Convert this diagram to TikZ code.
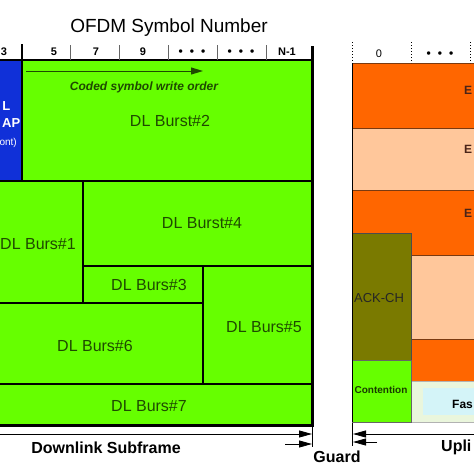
\documentclass[tikz,border=0pt]{standalone}
\usepackage{fontspec}
\setmainfont{Liberation Sans}
\usetikzlibrary{arrows.meta}
\definecolor{dlgreen}{HTML}{66FF00}
\definecolor{mapblue}{HTML}{1030D8}
\definecolor{ulorange}{HTML}{FF6600}
\definecolor{ulpeach}{HTML}{FFC79B}
\definecolor{ackolive}{HTML}{7A7A00}
\definecolor{palegreen}{HTML}{EAF6DC}
\definecolor{palecyan}{HTML}{D4F4F8}
\definecolor{txtgreen}{HTML}{1E4A00}
\definecolor{bandline}{HTML}{7A3A10}
\definecolor{edgetxt}{HTML}{4A2418}
\begin{document}
\begin{tikzpicture}[x=1pt,y=-1pt,
  burst/.style={draw=black,line width=1.5pt,fill=dlgreen},
  burstlbl/.style={font=\fontsize{16}{18}\selectfont,text=txtgreen,inner sep=0pt},
  axislbl/.style={font=\bfseries\fontsize{11}{12}\selectfont,inner sep=0pt,anchor=base},
  dotlbl/.style={font=\bfseries\fontsize{12}{12}\selectfont,inner sep=0pt,anchor=base},
  maplbl/.style={text=white,inner sep=0pt,anchor=base east},
  band/.style={draw=bandline,line width=0.5pt},
  bigtip/.style={-{Triangle[length=13pt,width=7pt]},line width=0.8pt},
  sublbl/.style={font=\bfseries\fontsize{16}{18}\selectfont,inner sep=0pt,anchor=base},
  edgelbl/.style={font=\bfseries\fontsize{12}{12}\selectfont,text=edgetxt,inner sep=0pt,anchor=west}
]
\useasboundingbox (0,0) rectangle (474,474);
\fill[white] (0,0) rectangle (474,474);

% title
\node[font=\fontsize{19}{21}\selectfont,inner sep=0pt,anchor=base] (title) at (169,32) {OFDM Symbol Number};

% ---------- Downlink ----------
\filldraw[burst] (-5,60) rectangle (312,181);
\filldraw[fill=mapblue,draw=black,line width=1.5pt] (-5,60) rectangle (22,181);
\filldraw[burst] (-5,181) rectangle (83,303);
\filldraw[burst] (83,181) rectangle (312,266);
\filldraw[burst] (83,266) rectangle (203,303);
\filldraw[burst] (203,266) rectangle (312,384);
\filldraw[burst] (-5,303) rectangle (203,384);
\filldraw[burst] (-5,384) rectangle (312,425);
\draw[line width=1.5pt] (-5,60) -- (312,60);
\draw[line width=3pt] (312,46) -- (312,425);
\draw[line width=3pt] (-5,425) -- (313.5,425);

% top axis DL
\draw[line width=1.2pt] (22,44) -- (22,60);
\foreach \xx in {70,119,168,217,266} \draw[gray!80!black,line width=0.8pt] (\xx,45) -- (\xx,60);
\node[axislbl] (a3) at (4,55) {3};
\node[axislbl] (a5) at (54,55) {5};
\node[axislbl] (a7) at (96,55) {7};
\node[axislbl] (a9) at (143,55) {9};
\node[dotlbl] (ad1) at (192,55) {•\hspace{7pt}•\hspace{7pt}•};
\node[dotlbl] (ad2) at (241,55) {•\hspace{7pt}•\hspace{7pt}•};
\node[axislbl] (an) at (287,55) {N-1};

% DL-MAP text (as printed, cropped)
\node[maplbl,font=\bfseries\fontsize{13}{16}\selectfont] (map1) at (10.5,110) {L};
\node[maplbl,font=\bfseries\fontsize{13}{16}\selectfont] (map2) at (20.5,127) {AP};
\node[maplbl,font=\fontsize{10}{12}\selectfont] (map3) at (17,145) {ont)};

% write order arrow
\coordinate (wo1) at (26,71);
\coordinate (wo2) at (203,71);
\draw[txtgreen,line width=1pt,-{Triangle[length=12pt,width=7pt]}] (wo1) -- (wo2);
\node[font=\bfseries\itshape\fontsize{12}{14}\selectfont,text=txtgreen,inner sep=0pt,anchor=base] (wo) at (144,90) {Coded symbol write order};

% burst labels
\node[burstlbl] (b2) at (170,121) {DL Burst\#2};
\node[burstlbl] (b4) at (202,223) {DL Burst\#4};
\node[burstlbl] (b1) at (38,244) {DL Burs\#1};
\node[burstlbl] (b3) at (149,285) {DL Burs\#3};
\node[burstlbl] (b5) at (264,327) {DL Burs\#5};
\node[burstlbl] (b6) at (95,346) {DL Burs\#6};
\node[burstlbl] (b7) at (149,406) {DL Burs\#7};

% DL bottom arrows
\coordinate (dl1) at (-5,434);
\coordinate (dl2) at (312,434);
\coordinate (dl3) at (285,444);
\coordinate (dl4) at (312,444);
\draw[bigtip] (dl1) -- (dl2);
\draw[bigtip] (dl3) -- (dl4);
\draw[line width=0.6pt] (312,426) -- (312,447);

\node[sublbl] (dls) at (106,453) {Downlink Subframe};
\node[sublbl] (guard) at (337,462) {Guard};

% ---------- Uplink ----------
\filldraw[fill=ulorange,band] (352,63) rectangle (480,128);
\filldraw[fill=ulpeach,band] (352,128) rectangle (480,190);
\filldraw[fill=ulorange,band] (352,190) rectangle (480,255);
\filldraw[fill=ulpeach,band] (411,255) rectangle (480,339);
\filldraw[fill=ulorange,band] (411,339) rectangle (480,381);
\filldraw[fill=palegreen,draw=gray!60,line width=0.5pt] (411,381) rectangle (480,422);
\fill[palecyan] (423,388) rectangle (480,415);
\filldraw[fill=ackolive,draw=black!70,line width=0.6pt] (352,233) rectangle (411,360);
\filldraw[fill=dlgreen,draw=black!60,line width=0.6pt] (352,360) rectangle (411,422);
\draw[line width=1pt] (352,63) -- (352,422);

% top axis UL
\foreach \xx in {352,411,470} \draw[line width=1pt,dotted] (\xx,42) -- (\xx,63);
\node[axislbl,font=\fontsize{11}{12}\selectfont] (u0) at (379,57) {0};
\node[dotlbl] (ud) at (440,57) {•\hspace{7pt}•\hspace{7pt}•};

% UL labels
\node[edgelbl] (e1) at (464,90) {E};
\node[edgelbl] (e2) at (464,149) {E};
\node[edgelbl] (e3) at (464,213) {E};
\node[font=\fontsize{13}{15}\selectfont,text=black!85,inner sep=0pt] (ack) at (379,298) {ACK-CH};
\node[font=\bfseries\fontsize{10}{12}\selectfont,text=txtgreen!80!black,inner sep=0pt] (cont) at (381,390) {Contention};
\node[font=\bfseries\fontsize{12}{15}\selectfont,inner sep=0pt,anchor=base west] (fas) at (452,408) {Fas};

% UL bottom arrows
\coordinate (ul1) at (480,434);
\coordinate (ul2) at (353,434);
\coordinate (ul3) at (377,442);
\coordinate (ul4) at (353,442);
\draw[bigtip] (ul1) -- (ul2);
\draw[bigtip] (ul3) -- (ul4);
\draw[line width=0.6pt] (352,423) -- (352,446);

\node[sublbl,anchor=base west] (upl) at (441,451) {Upli};
\end{tikzpicture}
\end{document}
